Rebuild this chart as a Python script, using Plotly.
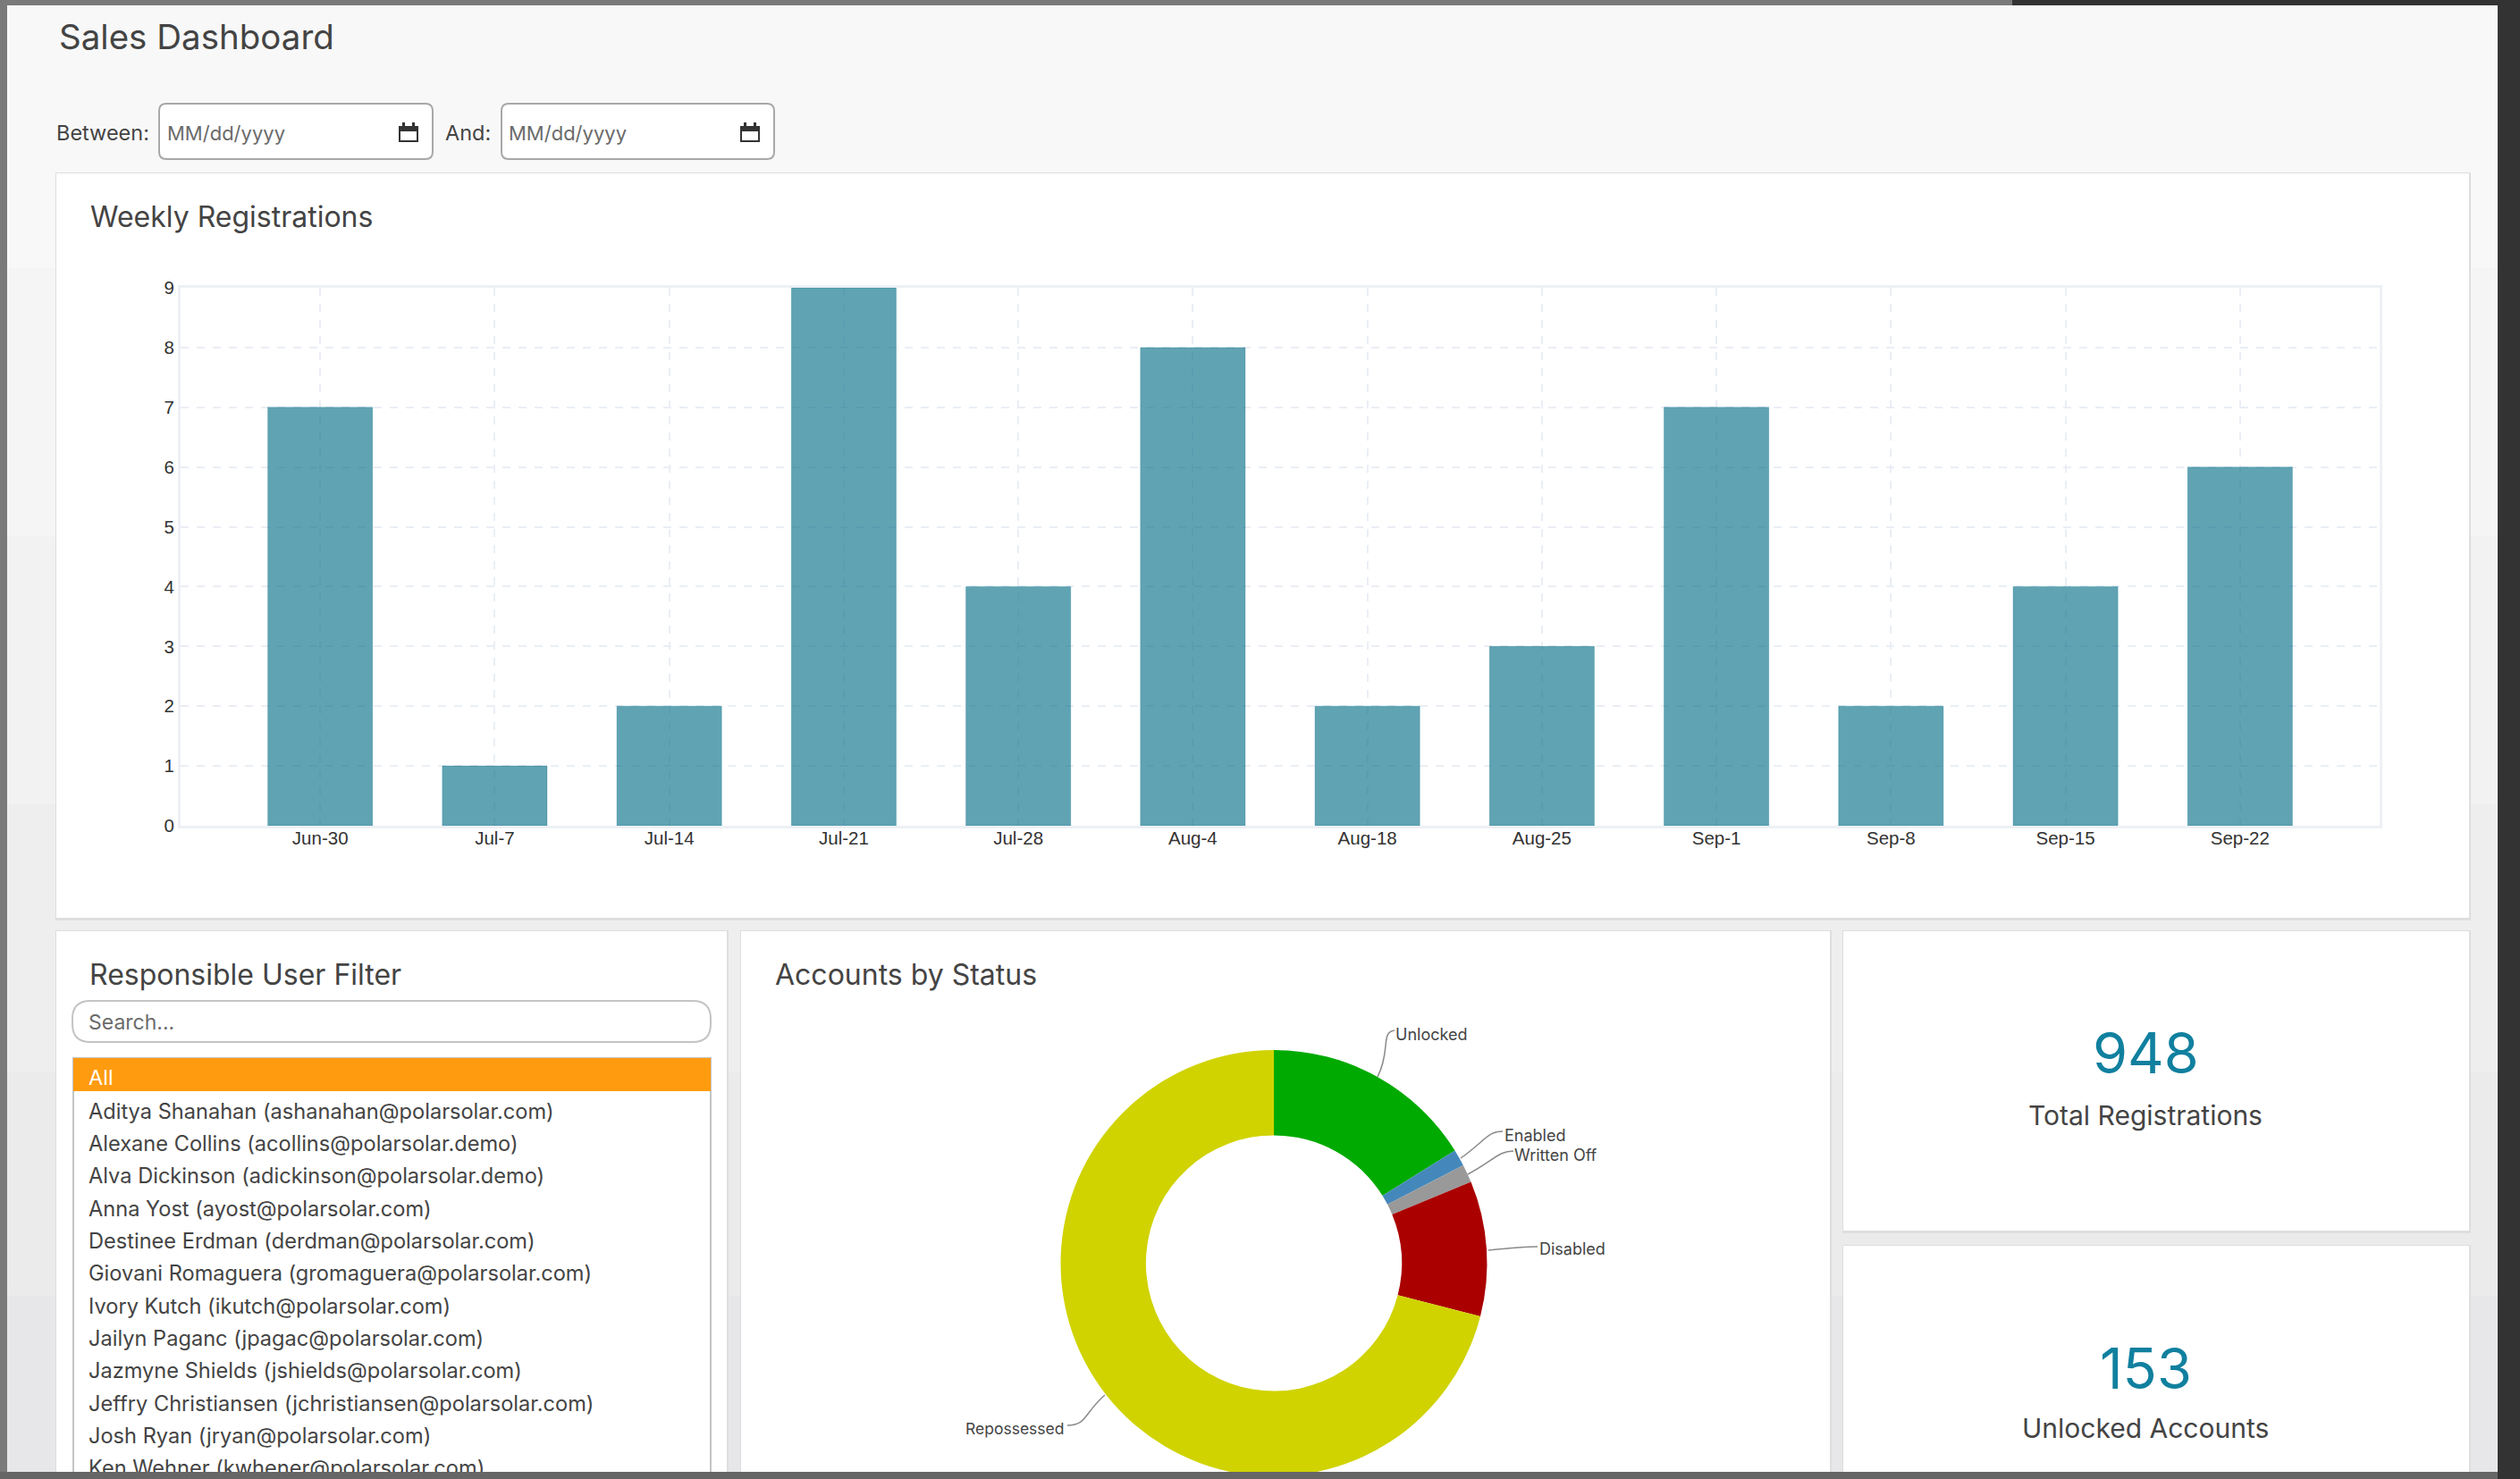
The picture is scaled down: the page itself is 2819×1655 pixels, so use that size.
import plotly.graph_objects as go

W, H = 2819, 1655

# weekly registrations
weeks = ['Jun-30', 'Jul-7', 'Jul-14', 'Jul-21', 'Jul-28', 'Aug-4', 'Aug-18', 'Aug-25', 'Sep-1', 'Sep-8', 'Sep-15', 'Sep-22']
registrations = [7, 1, 2, 9, 4, 8, 2, 3, 7, 2, 4, 6]

# accounts by status
statuses = ['Unlocked', 'Enabled', 'Written Off', 'Disabled', 'Repossessed']
status_counts = [153, 12, 13, 97, 673]
status_colors = ['#00AA00', '#4488BB', '#999999', '#AA0000', '#D0D300']

# responsible user list
users = [
	'Aditya Shanahan (ashanahan@polarsolar.com)',
	'Alexane Collins (acollins@polarsolar.demo)',
	'Alva Dickinson (adickinson@polarsolar.demo)',
	'Anna Yost (ayost@polarsolar.com)',
	'Destinee Erdman (derdman@polarsolar.com)',
	'Giovani Romaguera (gromaguera@polarsolar.com)',
	'Ivory Kutch (ikutch@polarsolar.com)',
	'Jailyn Paganc (jpagac@polarsolar.com)',
	'Jazmyne Shields (jshields@polarsolar.com)',
	'Jeffry Christiansen (jchristiansen@polarsolar.com)',
	'Josh Ryan (jryan@polarsolar.com)',
	'Ken Wehner (kwhener@polarsolar.com)',
]
user_rows = list(range(len(users)))

FONT = 'Inter'
TEXT = '#444444'


def fx(px):
	return px / W


def fy(py):
	return 1 - py / H


def rect(x0, y0, x1, y1, fill, line=None, layer='below'):
	return dict(type='rect', xref='paper', yref='paper', x0=fx(x0), x1=fx(x1), y0=fy(y0), y1=fy(y1),
				fillcolor=fill, line=dict(color=line or fill, width=2 if line else 0), layer=layer)


def rounded(x0, y0, x1, y1, r, fill, line):
	path = (f'M {fx(x0 + r)} {fy(y0)} L {fx(x1 - r)} {fy(y0)} Q {fx(x1)} {fy(y0)} {fx(x1)} {fy(y0 + r)} '
			f'L {fx(x1)} {fy(y1 - r)} Q {fx(x1)} {fy(y1)} {fx(x1 - r)} {fy(y1)} '
			f'L {fx(x0 + r)} {fy(y1)} Q {fx(x0)} {fy(y1)} {fx(x0)} {fy(y1 - r)} '
			f'L {fx(x0)} {fy(y0 + r)} Q {fx(x0)} {fy(y0)} {fx(x0 + r)} {fy(y0)} Z')
	return dict(type='path', xref='paper', yref='paper', path=path, fillcolor=fill,
				line=dict(color=line, width=2), layer='below')


def leader(x0, y0, cx0, cy0, cx1, cy1, x1, y1):
	path = f'M {fx(x0)} {fy(y0)} C {fx(cx0)} {fy(cy0)} {fx(cx1)} {fy(cy1)} {fx(x1)} {fy(y1)}'
	return dict(type='path', xref='paper', yref='paper', path=path,
				line=dict(color='#8a8a8a', width=1.5), layer='above')


def label(x, y, text, size, color=TEXT, anchor='left', font=FONT, weight=400):
	return dict(xref='paper', yref='paper', x=fx(x), y=fy(y), text=text, showarrow=False,
				xanchor=anchor, yanchor='middle', font=dict(family=font, size=size, color=color, weight=weight))


shapes = []
# page background bands, light at top and darker towards the bottom
bands = [(0, '#f8f8f8'), (300, '#f5f5f5'), (600, '#f2f2f2'), (900, '#eeeeee'), (1200, '#ebebeb'), (1450, '#e7e7e9')]
for i, (top, colour) in enumerate(bands):
	bottom = bands[i + 1][0] if i + 1 < len(bands) else H
	shapes.append(rect(0, top, W, bottom, colour))

# window edges
shapes.append(rect(0, 0, 8, H, '#7a7a7a'))
shapes.append(rect(0, 0, 2251, 6, '#7a7a7a'))
shapes.append(rect(2251, 0, W, 6, '#333333'))
shapes.append(rect(2794, 0, W, H, '#333333'))

# cards, each with a faint shadow under it
for x0, y0, x1, y1 in [(63, 194, 2762, 1027), (63, 1042, 813, H), (829, 1042, 2047, H), (2062, 1042, 2762, 1377), (2062, 1394, 2762, H)]:
	shapes.append(rect(x0 - 1, y0 - 1, x1 + 2, y1 + 3, '#dedede'))
	shapes.append(rect(x0, y0, x1, y1, 'white'))

# date inputs
shapes.append(rounded(178, 116, 484, 178, 8, 'white', '#a8a8a8'))
shapes.append(rounded(561, 116, 866, 178, 8, 'white', '#a8a8a8'))
for left in [445, 827]:
	shapes.append(rect(left + 2, 142, left + 22, 158, 'white', '#333333'))
	shapes.append(rect(left + 2, 142, left + 22, 147, '#333333'))
	shapes.append(rect(left + 5, 137, left + 8, 144, '#333333'))
	shapes.append(rect(left + 16, 137, left + 19, 144, '#333333'))

# search box and list
shapes.append(rounded(81, 1120, 795, 1166, 20, 'white', '#c4c4c4'))
shapes.append(rect(82, 1184, 795, H, 'white', '#c4c4c4'))
shapes.append(rect(82, 1184, 795, 1221, '#FF9B0F'))

# donut leader lines
shapes.append(leader(1541, 1205, 1556, 1176, 1544, 1155, 1560, 1153))
shapes.append(leader(1634, 1296, 1662, 1276, 1664, 1266, 1681, 1266))
shapes.append(leader(1642, 1314, 1672, 1298, 1676, 1288, 1693, 1288))
shapes.append(leader(1665, 1399, 1685, 1397, 1705, 1395, 1720, 1395))
shapes.append(leader(1236, 1561, 1212, 1582, 1216, 1595, 1194, 1595))

# window bottom edge goes over the list and the donut
shapes.append(rect(0, 1647, 2794, H, '#666666', layer='above'))

annotations = [
	label(64, 41, 'Sales Dashboard', 38.5),
	label(61, 149, 'Between:', 23.5),
	label(496, 149, 'And:', 23.5),
	label(185, 149, 'MM/dd/yyyy', 22, color='#6b6b6b'),
	label(567, 149, 'MM/dd/yyyy', 22, color='#6b6b6b'),
	label(99, 243, 'Weekly Registrations', 32),
	label(98, 1090, 'Responsible User Filter', 32),
	label(865, 1090, 'Accounts by Status', 32),
	label(97, 1144, 'Search...', 23, color='#6b6b6b'),
	label(97, 1205, 'All', 23.5, color='white'),
	label(1559, 1157, 'Unlocked', 18),
	label(1681, 1270, 'Enabled', 18),
	label(1692, 1292, 'Written Off', 18),
	label(1720, 1397, 'Disabled', 18),
	label(1193, 1598, 'Repossessed', 17.5, anchor='right'),
	label(2400, 1178, '948', 63, color='#11809F', anchor='center'),
	label(2400, 1248, 'Total Registrations', 30, anchor='center'),
	label(2400, 1531, '153', 63, color='#11809F', anchor='center'),
	label(2400, 1598, 'Unlocked Accounts', 30, anchor='center'),
]

fig = go.Figure()
fig.add_trace(go.Bar(
	x=weeks, y=registrations, width=0.6,
	marker=dict(color='rgba(14,115,140,0.66)', line=dict(color='rgba(14,115,140,0.3)', width=1))))
fig.add_trace(go.Pie(
	labels=statuses, values=status_counts, hole=0.6, sort=False, direction='clockwise', rotation=0,
	marker=dict(colors=status_colors), textinfo='none', showlegend=False,
	domain=dict(x=[fx(1186), fx(1664)], y=[fy(1652), fy(1175)])))
fig.add_trace(go.Scatter(
	x=[0] * len(users), y=user_rows, text=users, mode='text', textposition='middle right',
	textfont=dict(family=FONT, size=23.6, color=TEXT), xaxis='x2', yaxis='y2', cliponaxis=False, showlegend=False))

fig.update_layout(
	width=W, height=H, margin=dict(l=0, r=0, t=0, b=0, pad=0), showlegend=False,
	paper_bgcolor='white', plot_bgcolor='rgba(0,0,0,0)', bargap=0.4,
	font=dict(family='Liberation Sans', color='#333333'),
	shapes=shapes, annotations=annotations,
	xaxis=dict(
		domain=[fx(202), fx(2662)], range=[-0.8, 11.8], type='category', tickfont=dict(size=20.5),
		ticklabelstandoff=-7,
		showgrid=True, gridcolor='#EAEEF5', griddash='dash', gridwidth=1.5, automargin=False,
		showline=True, linecolor='#EDF0F5', linewidth=3, mirror=True, zeroline=False, anchor='y'),
	yaxis=dict(
		domain=[fy(924), fy(322)], range=[0, 9], dtick=1, tickfont=dict(size=20.5),
		showgrid=True, gridcolor='#EAEEF5', griddash='dash', gridwidth=1.5, automargin=False,
		showline=True, linecolor='#EDF0F5', linewidth=3, mirror=True, zeroline=False, anchor='x'),
	xaxis2=dict(domain=[fx(99), fx(795)], range=[0, 1], visible=False, anchor='y2', automargin=False),
	yaxis2=dict(domain=[fy(1655), fy(1223)], range=[11.27, -0.632], visible=False, anchor='x2', automargin=False),
)

# the figure is the whole window, so drop the browser's default body margin
fig.write_html('out.html', config=dict(displayModeBar=False),
			   post_script="document.body.style.margin='0';document.body.style.overflow='hidden';")
